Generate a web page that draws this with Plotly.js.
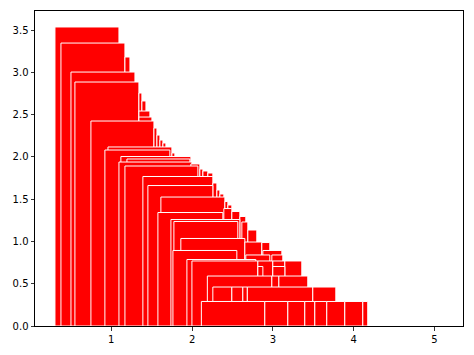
<!DOCTYPE html>
<html>
<head>
<meta charset="utf-8">
<script src="https://cdn.plot.ly/plotly-3.0.1.min.js"></script>
<style>html,body{margin:0;padding:0;background:#fff;}#chart{width:474px;height:355px;}</style>
</head>
<body>
<div id="chart"></div>
<script>
// Rectangles (left edge, right edge, height), drawn tallest first
const lefts = [
  0.303, 0.377, 1.169, 0.501, 0.550, 1.342, 1.379, 1.342, 1.342, 0.748,
  1.528, 1.565, 1.602, 1.639, 0.959, 0.921, 1.750, 1.119, 1.194, 1.095,
  1.985, 1.169, 2.096, 2.134, 2.195, 1.391, 2.257, 1.453, 2.307, 2.344,
  1.614, 2.406, 2.443, 2.393, 2.492, 1.577, 2.591, 1.738, 1.775, 2.616,
  2.690, 1.861, 2.653, 2.863, 2.876, 1.763, 2.665, 2.987, 1.936, 1.998,
  2.814, 2.999, 3.148, 2.814, 2.999, 2.189, 2.987, 3.074, 2.257, 2.492,
  2.628, 2.684, 3.494, 2.115, 2.900, 3.185, 3.395, 3.519, 3.667, 3.890,
  4.113
];
const rights = [
  1.095, 1.169, 1.231, 1.293, 1.342, 1.379, 1.429, 1.478, 1.503, 1.528,
  1.565, 1.602, 1.639, 1.676, 1.750, 1.725, 1.787, 1.985, 1.973, 1.998,
  2.096, 2.072, 2.134, 2.195, 2.257, 2.257, 2.307, 2.257, 2.344, 2.393,
  2.406, 2.443, 2.492, 2.492, 2.591, 2.381, 2.665, 2.591, 2.566, 2.690,
  2.801, 2.653, 2.863, 2.962, 3.111, 2.554, 2.962, 3.123, 2.789, 2.814,
  2.999, 3.148, 3.358, 2.876, 3.148, 2.987, 3.074, 3.432, 2.492, 2.628,
  2.684, 3.494, 3.779, 2.900, 3.185, 3.395, 3.519, 3.667, 3.890, 4.113,
  4.174
];
const heights = [
  3.536, 3.346, 3.181, 3.003, 2.885, 2.755, 2.661, 2.542, 2.471, 2.424,
  2.341, 2.258, 2.199, 2.164, 2.117, 2.081, 2.046, 2.004, 1.975, 1.939,
  1.916, 1.892, 1.856, 1.833, 1.809, 1.768, 1.691, 1.661, 1.608, 1.561,
  1.525, 1.472, 1.431, 1.389, 1.354, 1.342, 1.295, 1.259, 1.236, 1.230,
  1.135, 1.035, 0.993, 0.987, 0.893, 0.893, 0.840, 0.840, 0.786, 0.769,
  0.769, 0.769, 0.769, 0.704, 0.704, 0.591, 0.591, 0.591, 0.461, 0.461,
  0.461, 0.461, 0.461, 0.290, 0.290, 0.290, 0.290, 0.290, 0.290, 0.290,
  0.290
];
const xTicks = [1, 2, 3, 4, 5];
const yTicks = [0, 0.5, 1.0, 1.5, 2.0, 2.5, 3.0, 3.5];

const widths = lefts.map((l, i) => rights[i] - l);

const trace = {
  type: 'bar',
  x: lefts,
  y: heights,
  base: 0,
  width: widths,
  offset: 0,
  marker: {color: '#ff0000', line: {color: '#ffffff', width: 1}},
  hoverinfo: 'skip'
};

const axisCommon = {
  showline: true, mirror: true, linecolor: '#000', linewidth: 1,
  ticks: 'outside', ticklen: 3.5, tickwidth: 0.8, tickcolor: '#000',
  showgrid: false, zeroline: false,
  tickfont: {family: 'DejaVu Sans', size: 10, color: '#000'}
};

const layout = {
  width: 474, height: 355,
  margin: {l: 35, r: 11, t: 11, b: 29, pad: 0},
  paper_bgcolor: '#fff', plot_bgcolor: '#fff',
  showlegend: false,
  barmode: 'overlay',
  xaxis: Object.assign({}, axisCommon, {range: [0.056, 5.353], tickvals: xTicks, ticktext: xTicks.map(String)}),
  yaxis: Object.assign({}, axisCommon, {range: [0, 3.725], tickvals: yTicks, ticktext: yTicks.map(v => v.toFixed(1))}),
  font: {family: 'DejaVu Sans', size: 10, color: '#000'}
};

Plotly.newPlot('chart', [trace], layout, {staticPlot: true, displayModeBar: false});
</script>
</body>
</html>
